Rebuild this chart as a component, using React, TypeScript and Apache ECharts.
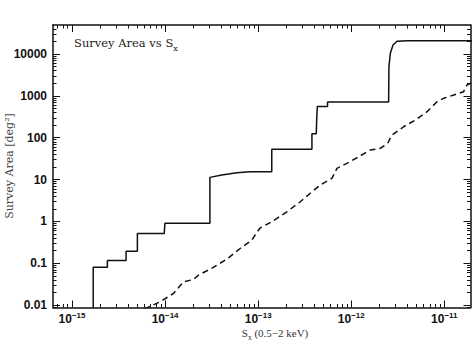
import React, { useEffect, useRef } from "react";
import * as echarts from "echarts";

// Axis ranges (flux in erg/s/cm^2, area in deg^2)
const xRange = [6.25e-16, 1.91e-11];
const yRange = [0.0088, 4.93e4];

// Major tick values
const xMajorTicks = [1e-15, 1e-14, 1e-13, 1e-12, 1e-11];
const yMajorTicks = [0.01, 0.1, 1, 10, 100, 1000, 10000];

// Solid curve: survey area vs flux limit (vertices of the step curve)
const surveyArea: [number, number][] = [
  [1.69e-15, 0.001], [1.69e-15, 0.081], [2.4e-15, 0.081], [2.4e-15, 0.117],
  [3.81e-15, 0.117], [3.81e-15, 0.195], [5.04e-15, 0.195], [5.04e-15, 0.518],
  [9.8e-15, 0.518], [9.95e-15, 0.9], [3.03e-14, 0.9], [3.03e-14, 11.3],
  [4.07e-14, 12.8], [5.9e-14, 14.6], [8.2e-14, 15.4], [1.4e-13, 15.4],
  [1.4e-13, 52.7], [3.78e-13, 52.7], [3.78e-13, 124], [4.21e-13, 124],
  [4.26e-13, 300], [4.32e-13, 560], [5.56e-13, 560], [5.56e-13, 713],
  [2.52e-12, 713], [2.54e-12, 4980], [2.63e-12, 10400], [2.81e-12, 16400],
  [3.1e-12, 20100], [4e-12, 20800], [2e-11, 20800],
];

// Dashed curve
const dashedCurve: [number, number][] = [
  [6.0e-15, 0.008], [6.35e-15, 0.0086], [8.83e-15, 0.012], [1.23e-14, 0.019],
  [1.57e-14, 0.036], [2.01e-14, 0.041], [2.28e-14, 0.052], [3.3e-14, 0.08],
  [4.6e-14, 0.126], [6.4e-14, 0.226], [8.55e-14, 0.358], [9.5e-14, 0.518],
  [1.05e-13, 0.7], [1.46e-13, 1.04], [2.03e-13, 1.7], [2.83e-13, 2.95],
  [3.78e-13, 5.1], [4.64e-13, 7.4], [6.2e-13, 10.7], [7.02e-13, 18.5],
  [8.98e-13, 24.4], [1.2e-12, 35], [1.6e-12, 50.8], [2.05e-12, 55.7],
  [2.46e-12, 73.5], [2.74e-12, 116], [3.65e-12, 183], [4.88e-12, 265],
  [6.52e-12, 418], [8.34e-12, 725], [9.84e-12, 873], [1.26e-11, 1047],
  [1.61e-11, 1257], [1.75e-11, 1815], [1.95e-11, 2050],
];

const minorMultipliers = [2, 3, 4, 5, 6, 7, 8, 9];
const xDecades = [1e-16, 1e-15, 1e-14, 1e-13, 1e-12, 1e-11];
const yDecades = [0.001, 0.01, 0.1, 1, 10, 100, 1000, 10000];

const minorTicks = (decades: number[], range: number[]) => {
  const out: number[] = [];
  decades.forEach((d) =>
    minorMultipliers.forEach((m) => {
      const v = +(m * d).toPrecision(3);
      if (v >= range[0] && v <= range[1]) out.push(v);
    })
  );
  return out;
};

const INK = "#111";

export default function App() {
  const ref = useRef<HTMLDivElement>(null);
  useEffect(() => {
    if (!ref.current) return;
    const chart = echarts.init(ref.current, undefined, { renderer: "svg" });
    const xMinor = minorTicks(xDecades, xRange);
    const yMinor = minorTicks(yDecades, yRange);

    const mkX = (pos: "bottom" | "top", major: boolean, labels: boolean) => ({
      type: "log",
      logBase: 10,
      min: xRange[0],
      max: xRange[1],
      position: pos,
      axisLine: { show: major, onZero: false, lineStyle: { color: INK, width: 1.5 } },
      axisTick: {
        show: true,
        inside: true,
        length: major ? 7 : 3.5,
        lineStyle: { color: INK, width: 1 },
        customValues: major ? xMajorTicks : xMinor,
      },
      axisLabel: {
        show: labels,
        customValues: xMajorTicks,
        margin: 4,
        formatter: (v: number) => `{b|10}{s|\u2212${Math.abs(Math.round(Math.log10(v)))}}`,
        rich: {
          b: { fontFamily: "Liberation Sans", fontWeight: "bold", fontSize: 12, lineHeight: 14, color: INK },
          s: { fontFamily: "Liberation Sans", fontWeight: "bold", fontSize: 8, lineHeight: 7, verticalAlign: "top", color: INK },
        },
      },
      splitLine: { show: false },
      minorTick: { show: false },
      minorSplitLine: { show: false },
    });

    const mkY = (pos: "left" | "right", major: boolean, labels: boolean) => ({
      type: "log",
      logBase: 10,
      min: yRange[0],
      max: yRange[1],
      position: pos,
      axisLine: { show: major, onZero: false, lineStyle: { color: INK, width: 1.5 } },
      axisTick: {
        show: true,
        inside: true,
        length: major ? 7 : 3.5,
        lineStyle: { color: INK, width: 1 },
        customValues: major ? yMajorTicks : yMinor,
      },
      axisLabel: {
        show: labels,
        customValues: yMajorTicks,
        margin: 6,
        fontFamily: "Liberation Sans",
        fontWeight: "bold",
        fontSize: 12,
        color: INK,
        formatter: (v: number) => String(+v.toPrecision(1)),
      },
      splitLine: { show: false },
      minorTick: { show: false },
      minorSplitLine: { show: false },
    });

    chart.setOption({
      animation: false,
      grid: { left: 53, top: 25, right: 3.5, bottom: 53.5, containLabel: false },
      xAxis: [mkX("bottom", true, true), mkX("bottom", false, false), mkX("top", true, false), mkX("top", false, false)],
      yAxis: [mkY("left", true, true), mkY("left", false, false), mkY("right", true, false), mkY("right", false, false)],
      series: [
        {
          type: "line",
          name: "Survey Area",
          data: surveyArea,
          xAxisIndex: 0,
          yAxisIndex: 0,
          showSymbol: false,
          symbol: "none",
          clip: true,
          lineStyle: { color: INK, width: 1.5 },
        },
        {
          type: "line",
          name: "dashed",
          data: dashedCurve,
          xAxisIndex: 0,
          yAxisIndex: 0,
          showSymbol: false,
          symbol: "none",
          clip: true,
          lineStyle: { color: INK, width: 1.5, type: [6, 4] },
        },
      ],
      graphic: [
        {
          type: "text",
          left: 74,
          top: 37,
          style: {
            text: "{a|Survey Area vs S}{sub|x}",
            rich: {
              a: { fontFamily: "DejaVu Serif", fontSize: 11.5, fill: "#222", lineHeight: 15, verticalAlign: "top" },
              sub: { fontFamily: "DejaVu Serif", fontSize: 8, fill: "#222", lineHeight: 10, verticalAlign: "bottom" },
            },
          },
        },
        {
          type: "text",
          x: 275,
          y: 334,
          style: {
            text: "{a|S}{sub|x}{a| (0.5\u22122 keV)}",
            align: "center",
            verticalAlign: "middle",
            rich: {
              a: { fontFamily: "Liberation Serif", fontSize: 11, fill: "#333", lineHeight: 14, verticalAlign: "top" },
              sub: { fontFamily: "Liberation Serif", fontSize: 7.5, fill: "#333", lineHeight: 9, verticalAlign: "bottom" },
            },
          },
        },
        {
          type: "text",
          x: 9,
          y: 166,
          rotation: Math.PI / 2,
          style: {
            text: "Survey Area [deg\u00b2]",
            align: "center",
            verticalAlign: "middle",
            fontFamily: "DejaVu Serif",
            fontSize: 11,
            fill: "#444",
          },
        },
      ],
    });
    return () => chart.dispose();
  }, []);
  return <div ref={ref} style={{ position: "fixed", left: 0, top: 0, width: 474, height: 361, background: "#fff" }} />;
}
